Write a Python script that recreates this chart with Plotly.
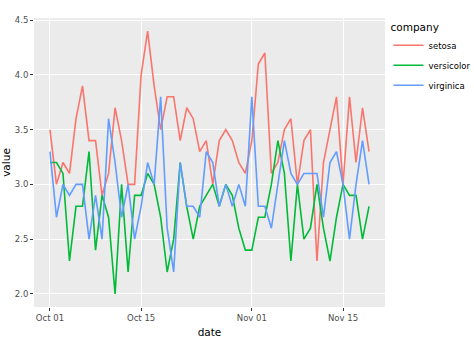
import plotly.graph_objects as go
import pandas as pd

dates = pd.date_range("2023-10-01", periods=50, freq="D")
setosa = [3.5,3.0,3.2,3.1,3.6,3.9,3.4,3.4,2.9,3.1,3.7,3.4,3.0,3.0,4.0,4.4,3.9,3.5,3.8,3.8,3.4,3.7,3.6,3.3,3.4,3.0,3.4,3.5,3.4,3.2,3.1,3.4,4.1,4.2,3.1,3.2,3.5,3.6,3.0,3.4,3.5,2.3,3.2,3.5,3.8,3.0,3.8,3.2,3.7,3.3]
versicolor = [3.2,3.2,3.1,2.3,2.8,2.8,3.3,2.4,2.9,2.7,2.0,3.0,2.2,2.9,2.9,3.1,3.0,2.7,2.2,2.5,3.2,2.8,2.5,2.8,2.9,3.0,2.8,3.0,2.9,2.6,2.4,2.4,2.7,2.7,3.0,3.4,3.1,2.3,3.0,2.5,2.6,3.0,2.6,2.3,2.7,3.0,2.9,2.9,2.5,2.8]
virginica = [3.3,2.7,3.0,2.9,3.0,3.0,2.5,2.9,2.5,3.6,3.2,2.7,3.0,2.5,2.8,3.2,3.0,3.8,2.6,2.2,3.2,2.8,2.8,2.7,3.3,3.2,2.8,3.0,2.8,3.0,2.8,3.8,2.8,2.8,2.6,3.0,3.4,3.1,3.0,3.1,3.1,3.1,2.7,3.2,3.3,3.0,2.5,3.0,3.4,3.0]
series = {"setosa": setosa, "versicolor": versicolor, "virginica": virginica}
colors = {"setosa": "#F8766D", "versicolor": "#00BA38", "virginica": "#619CFF"}
tickvals = ["2023-10-01", "2023-10-15", "2023-11-01", "2023-11-15"]
ticktext = ["Oct 01", "Oct 15", "Nov 01", "Nov 15"]

fig = go.Figure()
for name, vals in series.items():
    fig.add_trace(go.Scatter(x=dates, y=vals, mode="lines", name=name, legendgroup=name,
                             line=dict(color=colors[name], width=1.6)))

font = "DejaVu Sans"
fig.update_layout(
    width=474, height=338,
    margin=dict(l=34, r=89, t=18, b=31, autoexpand=False),
    paper_bgcolor="white", plot_bgcolor="#EBEBEB",
    font=dict(family=font, size=8.5, color="#4D4D4D"),
    legend=dict(title=dict(text="company", font=dict(size=10.5, color="black")),
                x=1.01, y=1.003, xanchor="left", yanchor="top",
                font=dict(size=8.5, color="black"), tracegroupgap=1,
                bgcolor="rgba(0,0,0,0)"),
    xaxis=dict(range=[pd.Timestamp("2023-10-01") - pd.Timedelta(days=2.45),
                      pd.Timestamp("2023-11-19") + pd.Timedelta(days=2.45)],
               tickvals=tickvals, ticktext=ticktext, showgrid=True, gridcolor="white",
               gridwidth=1, zeroline=False, ticks="outside", ticklen=3, tickcolor="#333333",
               automargin=False,
               title=dict(text="date", font=dict(size=10.5, color="black"), standoff=6)),
    yaxis=dict(range=[1.88, 4.52], tickvals=[2.0, 2.5, 3.0, 3.5, 4.0, 4.5],
               ticktext=["2.0", "2.5", "3.0", "3.5", "4.0", "4.5"],
               showgrid=True, gridcolor="white", gridwidth=1, zeroline=False,
               ticks="outside", ticklen=3, tickcolor="#333333", automargin=False,
               title=dict(text="value", font=dict(size=10.5, color="black"), standoff=4)),
)
fig.write_html("out.html")
